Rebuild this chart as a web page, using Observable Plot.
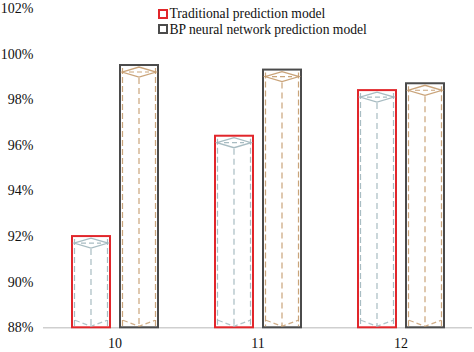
<!DOCTYPE html>
<html>
<head>
<meta charset="utf-8">
<script src="https://cdn.jsdelivr.net/npm/d3@7"></script>
<script src="https://cdn.jsdelivr.net/npm/@observablehq/plot@0.6"></script>
<style>
  html, body { margin: 0; padding: 0; background: white; }
  #wrap { position: relative; width: 474px; height: 352px; }
  #legend { position: absolute; left: 158px; top: 6px; font-family: "Times New Roman", "Liberation Serif", "DejaVu Serif", serif; font-size: 13.6px; color: #111; line-height: 15.5px; }
  #legend .row { display: flex; align-items: center; white-space: nowrap; }
  #legend .sw { width: 6px; height: 6px; border: 2px solid; margin-right: 1.5px; background: white; }
  svg text { font-family: "Times New Roman", "Liberation Serif", "DejaVu Serif", serif; }
</style>
</head>
<body>
<div id="wrap"></div>
<script>
const groups = ["10", "11", "12"];
const series = ["Traditional prediction model", "BP neural network prediction model"];
const traditional = [92.0, 96.4, 98.4];
const bpNeural = [99.5, 99.3, 98.7];
const yTicks = [88, 90, 92, 94, 96, 98, 100, 102];
const baseValue = 88;
const colors = ["#e1262b", "#4b4b4b"];
const decoColors = ["#9fb5bb", "#c49a6c"];

const data = [];
groups.forEach((g, i) => {
  data.push({group: g, series: series[0], value: traditional[i]});
  data.push({group: g, series: series[1], value: bpNeural[i]});
});

function decorate(index, scales, values, dimensions, context, next) {
  const g = next(index, scales, values, dimensions, context);
  const ns = "http://www.w3.org/2000/svg";
  const rects = Array.from(g.querySelectorAll("rect"));
  rects.forEach((r, k) => {
    const i = index[k];
    const s = series.indexOf(data[i].series);
    const dc = decoColors[s];
    const x0 = +r.getAttribute("x"), w = +r.getAttribute("width");
    const y0 = +r.getAttribute("y"), h = +r.getAttribute("height");
    const x1 = x0 + w, y1 = y0 + h, cx = x0 + w / 2;
    const add = (d, dash, sw, op) => {
      const p = document.createElementNS(ns, "path");
      p.setAttribute("d", d);
      p.setAttribute("fill", "none");
      p.setAttribute("stroke", dc);
      p.setAttribute("stroke-width", sw);
      p.setAttribute("stroke-opacity", op);
      if (dash) p.setAttribute("stroke-dasharray", dash);
      g.appendChild(p);
    };
    add(`M${x0+2.5},${y0+3}V${y1-1}M${x1-2.5},${y0+3}V${y1-1}`, "6,3", 1.2, 0.9);
    add(`M${x0+2},${y0+7}L${cx},${y0+2}L${x1-2},${y0+7}L${cx},${y0+12}Z`, null, 1.3, 0.9);
    add(`M${cx-10},${y0+7}H${cx+10}`, "5,3", 1.2, 0.9);
    add(`M${cx},${y0+13}V${y1-1}`, "6,4", 1.2, 0.9);
    add(`M${x0+3},${y1-7}L${cx},${y1-1}L${x1-3},${y1-7}`, "5,3", 1.2, 0.8);
  });
  return g;
}

const chart = Plot.plot({
  width: 474,
  height: 352,
  marginLeft: 42,
  marginRight: 2,
  marginTop: 8,
  marginBottom: 24.7,
  style: {fontFamily: "'Times New Roman', 'Liberation Serif', 'DejaVu Serif', serif", fontSize: "14px", color: "#111", background: "white"},
  fx: {domain: groups, padding: 0, label: null, tickSize: 0, tickPadding: 10},
  x: {domain: series, axis: null, paddingInner: 0.21, paddingOuter: 0.59},
  y: {domain: [88, 102], ticks: yTicks, tickFormat: d => d + "%", tickSize: 0, tickPadding: 10, label: null},
  color: {domain: series, range: colors},
  marks: [
    Plot.ruleY([baseValue], {stroke: "#cfcfcf", strokeWidth: 1.5}),
    Plot.barY(data, {
      fx: "group", x: "series", y1: baseValue, y2: "value",
      fill: "white", stroke: "series", strokeWidth: 2,
      render: decorate
    })
  ]
});

const wrap = document.getElementById("wrap");
wrap.appendChild(chart);
const legend = document.createElement("div");
legend.id = "legend";
series.forEach((s, i) => {
  const row = document.createElement("div");
  row.className = "row";
  const sw = document.createElement("span");
  sw.className = "sw";
  sw.style.borderColor = colors[i];
  const t = document.createElement("span");
  t.textContent = s;
  row.appendChild(sw);
  row.appendChild(t);
  legend.appendChild(row);
});
wrap.appendChild(legend);
</script>
</body>
</html>
